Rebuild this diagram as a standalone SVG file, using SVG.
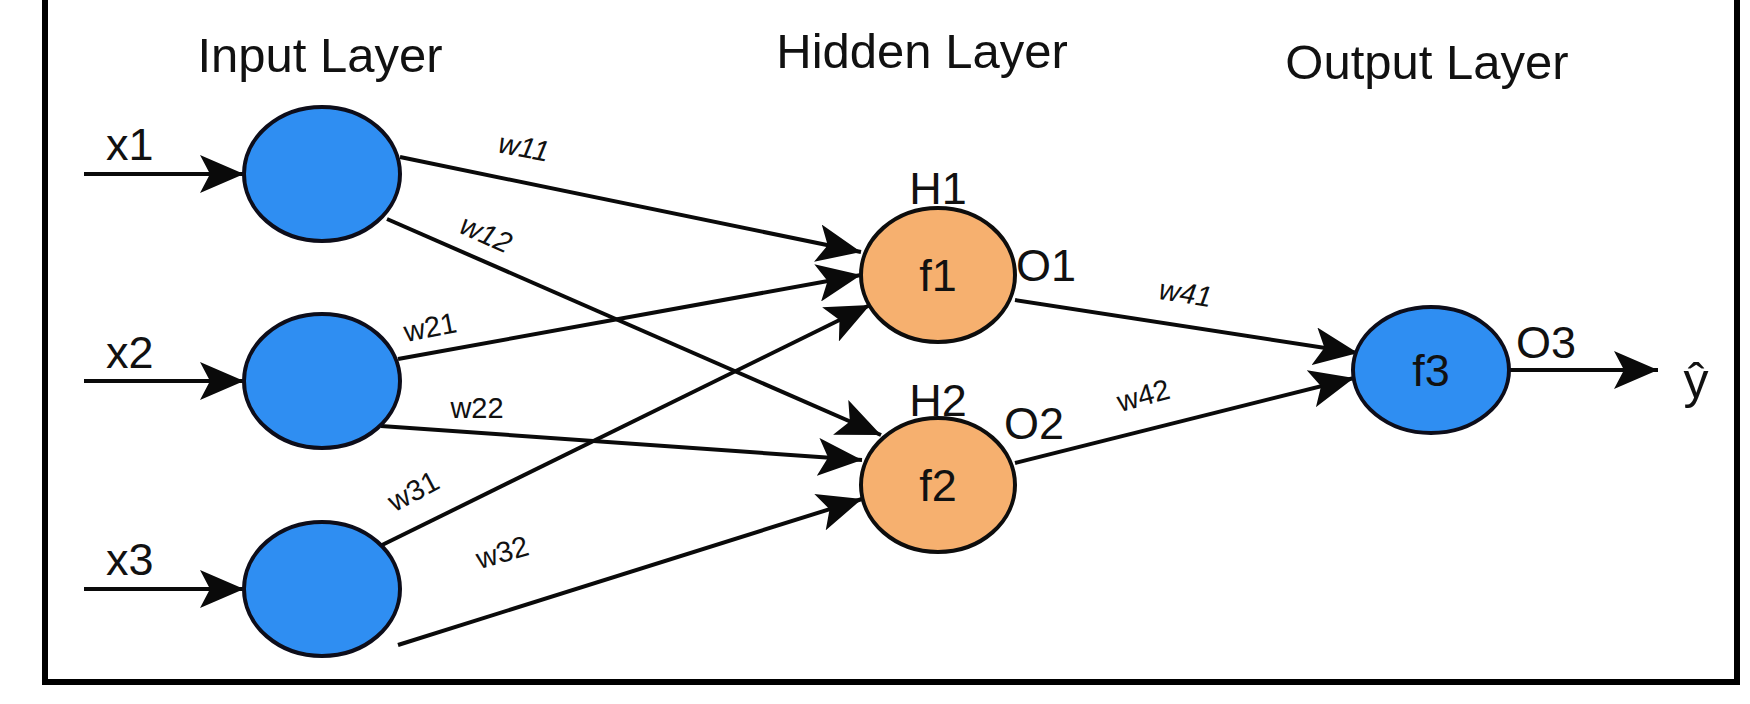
<svg xmlns="http://www.w3.org/2000/svg" width="1750" height="704" viewBox="0 0 1750 704">
<style>
.t{font-family:"Liberation Sans",Arial,sans-serif;fill:#111}
.ttl{font-size:49px}
.lbl{font-size:45px}
.w{font-size:29px}
.blue{fill:#2f8ef2;stroke:#0d0d1a;stroke-width:4}
.orange{fill:#f6b06f;stroke:#0d0d0d;stroke-width:4}
.e{stroke:#0a0a0a;stroke-width:4;fill:none;marker-end:url(#ah)}
</style>
<defs>
<marker id="ah" markerUnits="userSpaceOnUse" markerWidth="48" markerHeight="38" refX="44" refY="19" orient="auto">
<path d="M0,0 L44,19 L0,38 L10,19 Z" fill="#0a0a0a"/>
</marker>
</defs>
<rect x="0" y="0" width="1750" height="704" fill="#fff"/>
<rect x="45" y="-10" width="1692" height="692" fill="none" stroke="#000" stroke-width="6"/>
<g id="titles">
<text class="t ttl" x="320" y="72" text-anchor="middle">Input Layer</text>
<text class="t ttl" x="922" y="68" text-anchor="middle">Hidden Layer</text>
<text class="t ttl" x="1427" y="79" text-anchor="middle">Output Layer</text>
</g>
<g id="connectors">
<line class="e" x1="84" y1="174" x2="244" y2="174"/>
<line class="e" x1="84" y1="381" x2="244" y2="381"/>
<line class="e" x1="84" y1="589" x2="244" y2="589"/>
<line class="e" x1="400" y1="157" x2="861" y2="252"/>
<line class="e" x1="387" y1="219" x2="881" y2="435"/>
<line class="e" x1="398" y1="359" x2="861" y2="275"/>
<line class="e" x1="381" y1="426" x2="862" y2="460"/>
<line class="e" x1="376" y1="548" x2="870" y2="305"/>
<line class="e" x1="398" y1="645" x2="862" y2="499"/>
<line class="e" x1="1015" y1="300" x2="1358" y2="353"/>
<line class="e" x1="1015" y1="463" x2="1354" y2="378"/>
<line class="e" x1="1509" y1="370" x2="1658" y2="370"/>
<text class="t w" font-style="italic" transform="translate(522,157) rotate(11)" text-anchor="middle">w11</text>
<text class="t w" font-style="italic" transform="translate(482,243) rotate(24)" text-anchor="middle">w12</text>
<text class="t w" transform="translate(432,337) rotate(-11)" text-anchor="middle">w21</text>
<text class="t w" transform="translate(477,418)" text-anchor="middle">w22</text>
<text class="t w" transform="translate(418,500) rotate(-28)" text-anchor="middle">w31</text>
<text class="t w" transform="translate(505,562) rotate(-16)" text-anchor="middle">w32</text>
<text class="t w" font-style="italic" transform="translate(1184,303) rotate(9)" text-anchor="middle">w41</text>
<text class="t w" transform="translate(1146,405) rotate(-15)" text-anchor="middle">w42</text>
</g>
<g id="x1"><ellipse class="blue" cx="322" cy="174" rx="78" ry="67"/><text class="t lbl" x="106" y="160">x1</text></g>
<g id="x2"><ellipse class="blue" cx="322" cy="381" rx="78" ry="67"/><text class="t lbl" x="106" y="368">x2</text></g>
<g id="x3"><ellipse class="blue" cx="322" cy="589" rx="78" ry="67"/><text class="t lbl" x="106" y="575">x3</text></g>
<g id="H1"><ellipse class="orange" cx="938" cy="275" rx="77" ry="67"/><text class="t lbl" x="938" y="291" text-anchor="middle">f1</text><text class="t lbl" x="938" y="204" text-anchor="middle">H1</text><text class="t lbl" x="1016" y="281">O1</text></g>
<g id="H2"><ellipse class="orange" cx="938" cy="485" rx="77" ry="67"/><text class="t lbl" x="938" y="501" text-anchor="middle">f2</text><text class="t lbl" x="938" y="416" text-anchor="middle">H2</text><text class="t lbl" x="1004" y="439">O2</text></g>
<g id="out"><ellipse class="blue" cx="1431" cy="370" rx="78" ry="63"/><text class="t lbl" x="1431" y="386" text-anchor="middle">f3</text><text class="t lbl" x="1516" y="358">O3</text><text class="t" font-size="50" x="1696" y="398" text-anchor="middle">ŷ</text></g>
</svg>
